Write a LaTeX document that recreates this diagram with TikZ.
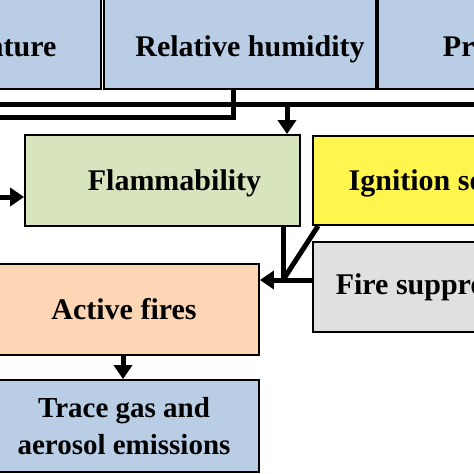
\documentclass[tikz,border=0pt]{standalone}
\usepackage{fontspec}
\setmainfont{Liberation Serif}
\usetikzlibrary{arrows.meta}
\definecolor{cblue}{HTML}{B9CDE5}
\definecolor{cgreen}{HTML}{D7E4BD}
\definecolor{cyellow}{HTML}{FFF54F}
\definecolor{cgrey}{HTML}{E0E0E0}
\definecolor{corange}{HTML}{FCD5B5}
\newcommand{\lowertext}[2]{\raisebox{-#1}[\height][\depth]{#2}}
\begin{document}
\begin{tikzpicture}[x=1pt,y=-1pt,
  box/.style={draw=black,line width=1.8pt,rectangle,inner sep=0pt,align=center,
    font=\fontsize{30}{32}\selectfont\bfseries},
  conn/.style={line width=5pt,draw=black},
  arr/.style={conn,-{Triangle[length=14pt,width=18pt]}}]
\useasboundingbox (0,0) rectangle (474,474);
\clip (0,0) rectangle (474,474);
% top row
\node[box,fill=cblue,minimum width=276pt,minimum height=91pt] (temp) at (-37,43.5) {\hspace*{20pt}\lowertext{6pt}{Temperature}};
\node[box,fill=cblue,minimum width=272pt,minimum height=91pt] (hum) at (240,43.5) {\hspace*{20pt}\lowertext{6pt}{Relative humidity}};
\node[box,fill=cblue,minimum width=276pt,minimum height=91pt] (prec) at (516,43.5) {\hspace*{20pt}\lowertext{6pt}{Precipitation}};
% middle
\node[box,fill=cgreen,minimum width=275pt,minimum height=91pt] (flam) at (162.5,180.5) {\hspace*{24pt}\lowertext{3pt}{Flammability}};
\node[box,fill=cyellow,minimum width=275pt,minimum height=89pt] (ign) at (450.5,180.5) {\lowertext{3pt}{Ignition sources}};
\node[box,fill=cgrey,minimum width=257pt,minimum height=90pt] (supp) at (441.5,287) {Fire suppression};
\node[box,fill=corange,minimum width=270pt,minimum height=91pt] (act) at (124,309.5) {Active fires};
\node[box,fill=cblue,minimum width=270pt,minimum height=92pt,
  font=\fontsize{29}{37}\selectfont\bfseries] (trace) at (124,426) {Trace gas and\\aerosol emissions};
% bus lines
\coordinate (busL) at (-10,104.5);
\coordinate (busR) at (484,104.5);
\coordinate (fa) at (287,104.5);
\coordinate (hl) at (-10,117);
\coordinate (la) at (-10,197);
\coordinate (j) at (283,280);
\draw[conn] (busL) -- (busR);
\draw[conn] (hum.south -| 233,0) -- (233,117) -- (hl);
\draw[arr] (fa) -- (fa |- flam.north);
\draw[arr] (la) -- (la -| flam.west);
% merge into active fires
\draw[conn] (flam.south -| j) -- (j);
\draw[conn] ([xshift=6pt]ign.south west) -- (j);
\draw[arr] (supp.west |- j) -- (act.east |- j);
\draw[arr] (act.south -| 123,0) -- (trace.north -| 123,0);
\end{tikzpicture}
\end{document}
